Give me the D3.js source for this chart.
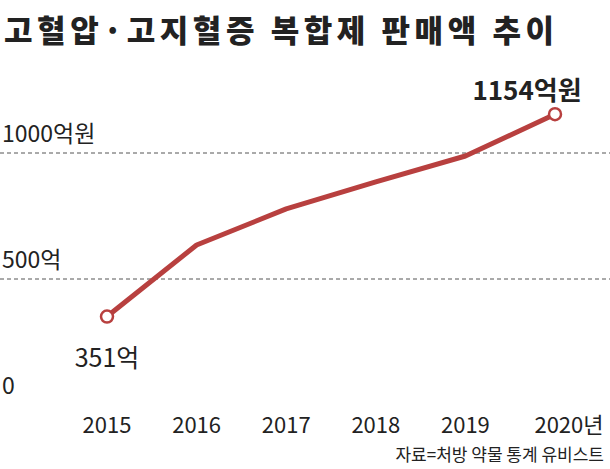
<!DOCTYPE html>
<html><head><meta charset="utf-8">
<script src="https://cdn.jsdelivr.net/npm/d3@7"></script>
<style>body{margin:0;background:#fff}text{font-family:"Noto Sans CJK KR","Noto Sans",sans-serif}</style>
</head><body><svg id="c" width="610" height="469"></svg>
<script>
const years = ["2015","2016","2017","2018","2019","2020"];
const xLabels = ["2015","2016","2017","2018","2019","2020년"];
const values = [351, 635, 778, 885, 988, 1154];
const gridValues = [500, 1000];
const yTickLabels = [{v:0,t:"0"},{v:500,t:"500억"},{v:1000,t:"1000억원"}];

const svg = d3.select("#c");
const x = d3.scalePoint().domain(years).range([107,555]);
const y = d3.scaleLinear().domain([0,1000]).range([405,153]);

svg.append("text").attr("x",4).attr("y",42).attr("font-size",31).attr("font-weight",900)
  .attr("fill","#222").attr("textLength",550).text("고혈압·고지혈증 복합제 판매액 추이");

svg.selectAll(".g").data(gridValues).join("line")
  .attr("x1",0).attr("x2",610).attr("y1",d=>y(d)).attr("y2",d=>y(d))
  .attr("stroke","#555").attr("stroke-width",1).attr("stroke-dasharray","4,3");

svg.selectAll(".yl").data(yTickLabels).join("text")
  .attr("x",2).attr("y",d=>y(d.v)-11).attr("font-size",23).attr("fill","#222").text(d=>d.t);

svg.selectAll(".xl").data(years).join("text")
  .attr("x",(d)=>x(d)).attr("y",433).attr("font-size",22).attr("fill","#222")
  .attr("text-anchor","middle").text((d,i)=>xLabels[i])
  .attr("dx",(d,i)=>i===5?14:0);

const line = d3.line().x((d,i)=>x(years[i])).y(d=>y(d));
svg.append("path").datum(values).attr("d",line).attr("fill","none")
  .attr("stroke","#b8403f").attr("stroke-width",5).attr("stroke-linejoin","round");

svg.selectAll(".pt").data([0,5]).join("circle")
  .attr("cx",i=>x(years[i])).attr("cy",i=>y(values[i])).attr("r",6)
  .attr("fill","#fff").attr("stroke","#b8403f").attr("stroke-width",2.5);

svg.append("text").attr("x",x(years[0])).attr("y",y(values[0])+50).attr("font-size",25)
  .attr("text-anchor","middle").attr("fill","#222").text(values[0]+"억");
svg.append("text").attr("x",x(years[5])-28).attr("y",y(values[5])-14).attr("font-size",26)
  .attr("font-weight",700).attr("text-anchor","middle").attr("fill","#222").text(values[5]+"억원");

svg.append("text").attr("x",604).attr("y",461).attr("font-size",17).attr("text-anchor","end")
  .attr("fill","#222").text("자료=처방 약물 통계 유비스트");
</script></body></html>
